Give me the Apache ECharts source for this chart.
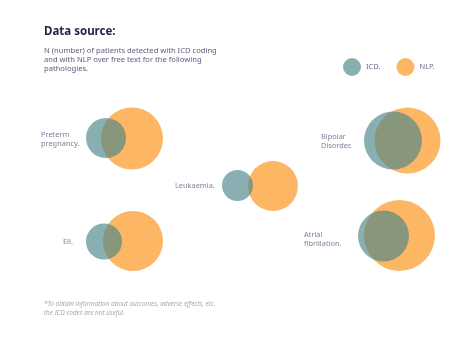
<!DOCTYPE html>
<html><head><meta charset="utf-8">
<script src="https://cdn.jsdelivr.net/npm/echarts@6/dist/echarts.min.js"></script>
<style>html,body{margin:0;padding:0;background:#fff}#c{width:474px;height:345px}</style>
</head><body><div id="c"></div>
<script>
// Data
var categories = ['Preterm\npregnancy.', 'Leukaemia.', 'Bipolar\nDisorder.', 'Ell.', 'Atrial\nfibrillation.'];
var icdValues = [400, 240, 840, 325, 650];
var nlpValues = [960, 625, 1090, 900, 1260];
var seriesNames = ['ICD.', 'NLP.'];

// Layout (positions on a page-like coordinate plane)
var layout = {
  icdPos: [[106, 138], [237.5, 185.5], [393, 140.5], [104, 241.5], [383.5, 236]],
  nlpPos: [[132, 138.5], [273, 186], [407.5, 140.5], [133, 241], [399.5, 235.5]],
  labelPos: [[41, 139.5], [175, 186], [321, 141.5], [63, 241.5], [304, 239.5]]
};

function size(v) { return 2 * Math.sqrt(v); }

var icdData = icdValues.map(function (v, i) { return { name: categories[i], value: [layout.icdPos[i][0], layout.icdPos[i][1], v] }; });
var nlpData = nlpValues.map(function (v, i) { return { name: categories[i], value: [layout.nlpPos[i][0], layout.nlpPos[i][1], v] }; });
var labelData = categories.map(function (c, i) { return { name: c, value: layout.labelPos[i] }; });

var FONT = 'Noto Sans';
var chart = echarts.init(document.getElementById('c'), null, { renderer: 'canvas' });
chart.setOption({
  animation: false,
  backgroundColor: '#ffffff',
  title: {
    text: 'Data source:',
    subtext: 'N (number) of patients detected with ICD coding\nand with NLP over free text for the following\npathologies.',
    left: 39, top: 21,
    itemGap: 8,
    textStyle: { fontFamily: FONT, fontSize: 11.5, fontWeight: 'bold', color: '#23264a' },
    subtextStyle: { fontFamily: FONT, fontSize: 7.6, color: '#5a5e7e', lineHeight: 9 }
  },
  legend: {
    data: seriesNames,
    left: 338, top: 53,
    icon: 'circle',
    itemWidth: 18, itemHeight: 18, itemGap: 16,
    textStyle: { fontFamily: FONT, fontSize: 7.5, color: '#6b6e88' }
  },
  graphic: [{
    type: 'text', left: 44, top: 300,
    style: { text: '*To obtain information about outcomes, adverse effects, etc.\nthe ICD codes are not useful.',
      font: 'italic 6.4px "Noto Sans"', fill: '#a5a7b5', lineHeight: 9 }
  }],
  grid: { left: 0, right: 0, top: 0, bottom: 0 },
  xAxis: { type: 'value', min: 0, max: 474, show: false },
  yAxis: { type: 'value', min: 0, max: 345, inverse: true, show: false },
  series: [
    { name: 'NLP.', type: 'scatter', z: 2, data: nlpData,
      symbolSize: function (v) { return size(v[2]); },
      itemStyle: { color: '#fdb35c', opacity: 0.95 }, silent: true },
    { name: 'ICD.', type: 'scatter', z: 3, data: icdData,
      symbolSize: function (v) { return size(v[2]); },
      itemStyle: { color: '#4a8489', opacity: 0.65 }, silent: true },
    { name: 'labels', type: 'scatter', z: 4, data: labelData, symbolSize: 0,
      label: { show: true, position: 'right', distance: 0, formatter: '{b}',
        fontFamily: FONT, fontSize: 7.4, color: '#5d6180', lineHeight: 9.5, align: 'left' },
      silent: true }
  ]
});
</script></body></html>
